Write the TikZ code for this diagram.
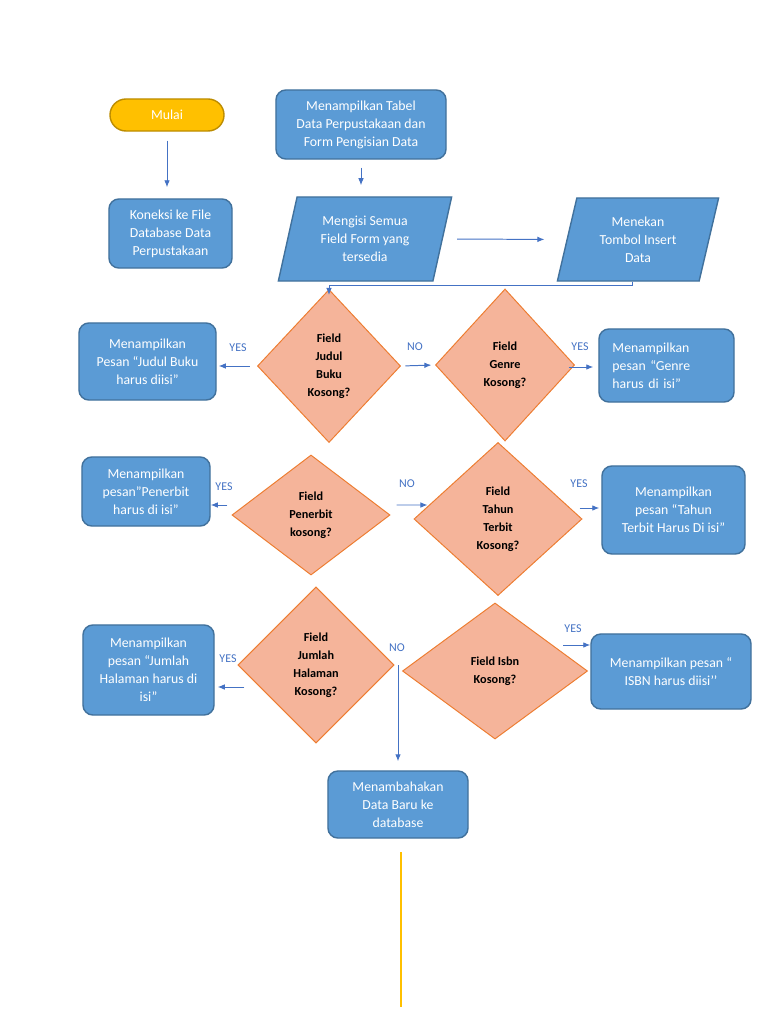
\documentclass[tikz,border=0pt]{standalone}
\usepackage{fontspec}
\setmainfont{Carlito}
\usetikzlibrary{shapes.geometric,arrows.meta,calc}

\definecolor{boxblue}{HTML}{5B9BD5}
\definecolor{boxedge}{HTML}{41719C}
\definecolor{askfill}{HTML}{F5B49A}
\definecolor{askedge}{HTML}{ED7D31}
\definecolor{startfill}{HTML}{FFC000}
\definecolor{startedge}{HTML}{BC8C00}
\definecolor{linkblue}{HTML}{4472C4}

\begin{document}
\begin{tikzpicture}[x=0.025cm,y=-0.025cm,
  box/.style={draw=boxedge,fill=boxblue,line width=1pt,rounded corners=7pt,
    text=white,align=center,inner sep=0pt,font=\fontsize{9.8}{12.8}\selectfont},
  ask/.style={diamond,draw=askedge,fill=askfill,line width=0.7pt,
    align=center,inner sep=0pt,font=\bfseries\fontsize{8.7}{12.8}\selectfont},
  io/.style={trapezium,trapezium left angle=75,trapezium right angle=105,
    trapezium stretches=true,draw=boxedge,fill=boxblue,line width=1pt,
    text=white,align=center,inner sep=0pt,font=\fontsize{9.8}{12.8}\selectfont},
  ans/.style={text=linkblue,inner sep=0pt,font=\fontsize{8.5}{10}\selectfont}]
  \useasboundingbox (0,0) rectangle (768,1024);

  \node[box,rounded corners=0.4cm,fill=startfill,draw=startedge,
    minimum width=2.85cm,minimum height=0.8cm] (mulai) at (167,115) {Mulai};
  \node[box,minimum width=3.075cm,minimum height=1.725cm] (koneksi) at (170.5,233.5)
    {Koneksi ke File\\Database Data\\Perpustakaan};
  \node[box,minimum width=4.25cm,minimum height=1.725cm] (tabel) at (361,124.5)
    {Menampilkan Tabel\\Data Perpustakaan dan\\Form Pengisian Data};
  \node[io,minimum width=4.35cm,minimum height=2.1cm] (mengisi) at (365,239)
    {Mengisi Semua\\Field Form yang\\tersedia};
  \node[io,minimum width=4.05cm,minimum height=2.075cm] (menekan) at (638,239.5)
    {Menekan\\Tombol Insert\\Data};

  \node[ask,minimum width=3.575cm,minimum height=3.825cm] (judul) at (329,366)
    {Field\\Judul\\Buku\\Kosong?};
  \node[ask,minimum width=3.475cm,minimum height=3.8cm] (genre) at (505,365)
    {Field\\Genre\\Kosong?};
  \node[box,minimum width=3.425cm,minimum height=1.925cm] (judulmsg) at (147.5,361.5)
    {Menampilkan\\Pesan “Judul Buku\\harus diisi”};
  \node[box,minimum width=3.375cm,minimum height=1.825cm,align=left,
    text width=2.7cm,inner xsep=0.33cm] (genremsg) at (666.5,365.5)
    {Menampilkan\\pesan “Genre\\harus di isi”};

  \node[ask,minimum width=3.95cm,minimum height=3cm] (penerbit) at (311,515)
    {Field\\Penerbit\\kosong?};
  \node[ask,minimum width=4.2cm,minimum height=3.825cm] (tahun) at (498,519)
    {Field\\Tahun\\Terbit\\Kosong?};
  \node[box,minimum width=3.2cm,minimum height=1.725cm] (penerbitmsg) at (146,491.5)
    {Menampilkan\\pesan”Penerbit\\harus di isi”};
  \node[box,minimum width=3.575cm,minimum height=2.2cm] (tahunmsg) at (673.5,510)
    {Menampilkan\\pesan “Tahun\\Terbit Harus Di isi”};

  \node[ask,minimum width=3.9cm,minimum height=3.9cm] (jumlah) at (316,665)
    {Field\\Jumlah\\Halaman\\Kosong?};
  \node[ask,minimum width=4.625cm,minimum height=3.4cm] (isbn) at (495,671)
    {Field Isbn\\Kosong?};
  \node[box,minimum width=3.275cm,minimum height=2.25cm] (jumlahmsg) at (148.5,670)
    {Menampilkan\\pesan “Jumlah\\Halaman harus di\\isi”};
  \node[box,minimum width=4cm,minimum height=1.875cm] (isbnmsg) at (671,671.5)
    {Menampilkan pesan “\\ISBN harus diisi’’};
  \node[box,minimum width=3.5cm,minimum height=1.675cm] (tambah) at (398,804.5)
    {Menambahakan\\Data Baru ke\\database};

  \node[ans] (yes1) at (238,348) {YES};
  \node[ans] (no1) at (415,347) {NO};
  \node[ans] (yes2) at (580,347) {YES};
  \node[ans] (yes3) at (224,487) {YES};
  \node[ans] (no2) at (407,484) {NO};
  \node[ans] (yes4) at (579,484) {YES};
  \node[ans] (yes5) at (228,659) {YES};
  \node[ans] (no3) at (397,648) {NO};
  \node[ans] (yes6) at (573,629) {YES};

  \begin{scope}[draw=linkblue,line width=0.7pt,-{Latex[length=5pt,width=4pt]}]
  \draw[shorten <=0.225cm,shorten >=0.275cm] (mulai.south) -- (mulai.south |- koneksi.north);
  \draw[shorten <=0.2cm,shorten >=0.275cm] (tabel.south) -- (tabel.south |- mengisi.north);
  \draw[shorten <=0.35cm,shorten >=0.55cm] (mengisi.east) -- (menekan.west);
  \draw[shorten >=-0.15cm] ([xshift=-0.15cm]menekan.south) -- ++(0,4) -| (judul.north);
  \draw[shorten <=0.175cm,shorten >=0.05cm] (judul.west) -- (judul.west -| judulmsg.east);
  \draw[shorten <=0.11cm,shorten >=0.09cm] (judul.east) -- (genre.west);
  \draw[shorten <=-0.16cm,shorten >=0.125cm] ([yshift=-0.05cm]genre.east)
    -- ([yshift=-0.05cm]genre.east -| genremsg.west);
  \draw[shorten <=0.1cm] ([yshift=0.25cm]penerbit.west) -- ([yshift=0.25cm]penerbit.west -| penerbitmsg.east);
  \draw ([xshift=0.15cm,yshift=0.25cm]penerbit.east) -- ([xshift=0.35cm,yshift=0.35cm]tahun.west);
  \draw[shorten >=0.05cm] ([xshift=-0.075cm,yshift=0.275cm]tahun.east)
    -- ([yshift=0.275cm]tahun.east -| tahunmsg.west);
  \draw[shorten >=0.075cm] ([xshift=0.175cm,yshift=-0.55cm]jumlah.west)
    -- ([yshift=-0.55cm]jumlah.west -| jumlahmsg.east);
  \draw[shorten >=0.225cm] (jumlah.east -| tambah.north) -- (tambah.north);
  \draw ([xshift=-0.625cm,yshift=0.65cm]isbn.east) -- ([yshift=0.65cm]isbn.east -| isbnmsg.west);
  \end{scope}

  \coordinate (tailtop) at (401,852);
  \coordinate (tailend) at (401,1007);
  \draw[startfill,line width=1.2pt] (tailtop) -- (tailend);
\end{tikzpicture}
\end{document}
